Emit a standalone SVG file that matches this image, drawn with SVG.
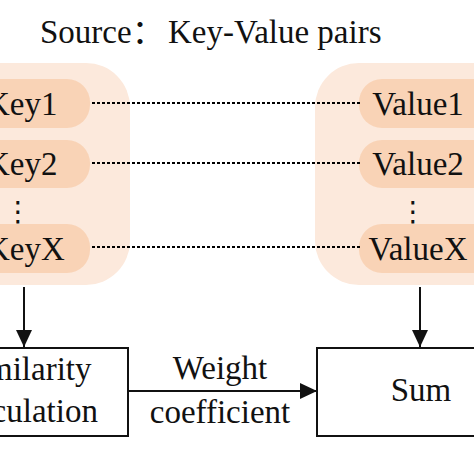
<svg xmlns="http://www.w3.org/2000/svg" width="474" height="474" viewBox="0 0 474 474">
<style>
.t{font-family:"Liberation Serif","Noto Sans CJK SC",serif;font-size:33px;fill:#111}
.outer{fill:#fce9dc}
.pill{fill:#f9d3b6}
.dash{stroke:#000;stroke-width:1.8;stroke-dasharray:3 2;fill:none}
.line{stroke:#111;stroke-width:2;fill:none}
.box{stroke:#111;stroke-width:2;fill:#fff}
.dots{font-family:"DejaVu Sans",sans-serif;font-size:28px;fill:#111}
</style>
<defs>
<marker id="ah" markerWidth="18" markerHeight="16" refX="17" refY="8" orient="auto" markerUnits="userSpaceOnUse">
<path d="M0,0 L17,8 L0,16 Z" fill="#111"/>
</marker>
</defs>
<rect width="474" height="474" fill="#fff"/>
<text id="title" class="t" x="40" y="43">Source：<tspan x="168">Key-Value pairs</tspan></text>
<g id="keys">
<rect class="outer" x="-60" y="63" width="190" height="222" rx="44"/>
<g id="key1"><rect class="pill" x="-40" y="79" width="130" height="49" rx="23"/><text class="t" x="-14" y="115">Key1</text></g>
<g id="key2"><rect class="pill" x="-40" y="140" width="130" height="48" rx="23"/><text class="t" x="-14" y="175">Key2</text></g>
<text class="dots" x="18" y="221" text-anchor="middle">⋮</text>
<g id="keyX"><rect class="pill" x="-40" y="224" width="130" height="49" rx="23"/><text class="t" x="-14" y="260">KeyX</text></g>
</g>
<g id="values">
<rect class="outer" x="315" y="63" width="220" height="222" rx="44"/>
<g id="value1"><rect class="pill" x="359" y="79" width="150" height="49" rx="23"/><text class="t" x="418" y="115" text-anchor="middle">Value1</text></g>
<g id="value2"><rect class="pill" x="359" y="140" width="150" height="48" rx="23"/><text class="t" x="418" y="175" text-anchor="middle">Value2</text></g>
<text class="dots" x="413" y="221" text-anchor="middle">⋮</text>
<g id="valueX"><rect class="pill" x="359" y="224" width="150" height="49" rx="23"/><text class="t" x="418" y="260" text-anchor="middle">ValueX</text></g>
</g>
<g id="similarity">
<rect class="box" x="-70" y="348" width="198" height="88"/>
<text class="t" x="25.5" y="380" text-anchor="middle">Similarity</text>
<text class="t" x="25.5" y="422" text-anchor="middle">calculation</text>
</g>
<g id="sum">
<rect class="box" x="317" y="348" width="220" height="88"/>
<text class="t" x="421" y="401" text-anchor="middle">Sum</text>
</g>
<g id="connectors">
<line class="dash" x1="92" y1="103" x2="360" y2="103"/>
<line class="dash" x1="92" y1="163" x2="360" y2="163"/>
<line class="dash" x1="92" y1="247" x2="360" y2="247"/>
<line class="line" x1="24" y1="287" x2="24" y2="347" marker-end="url(#ah)"/>
<line class="line" x1="420" y1="287" x2="420" y2="347" marker-end="url(#ah)"/>
<line class="line" x1="128" y1="391" x2="317" y2="391" marker-end="url(#ah)"/>
<text class="t" x="220" y="379" text-anchor="middle">Weight</text>
<text class="t" x="220" y="423" text-anchor="middle">coefficient</text>
</g>
</svg>
